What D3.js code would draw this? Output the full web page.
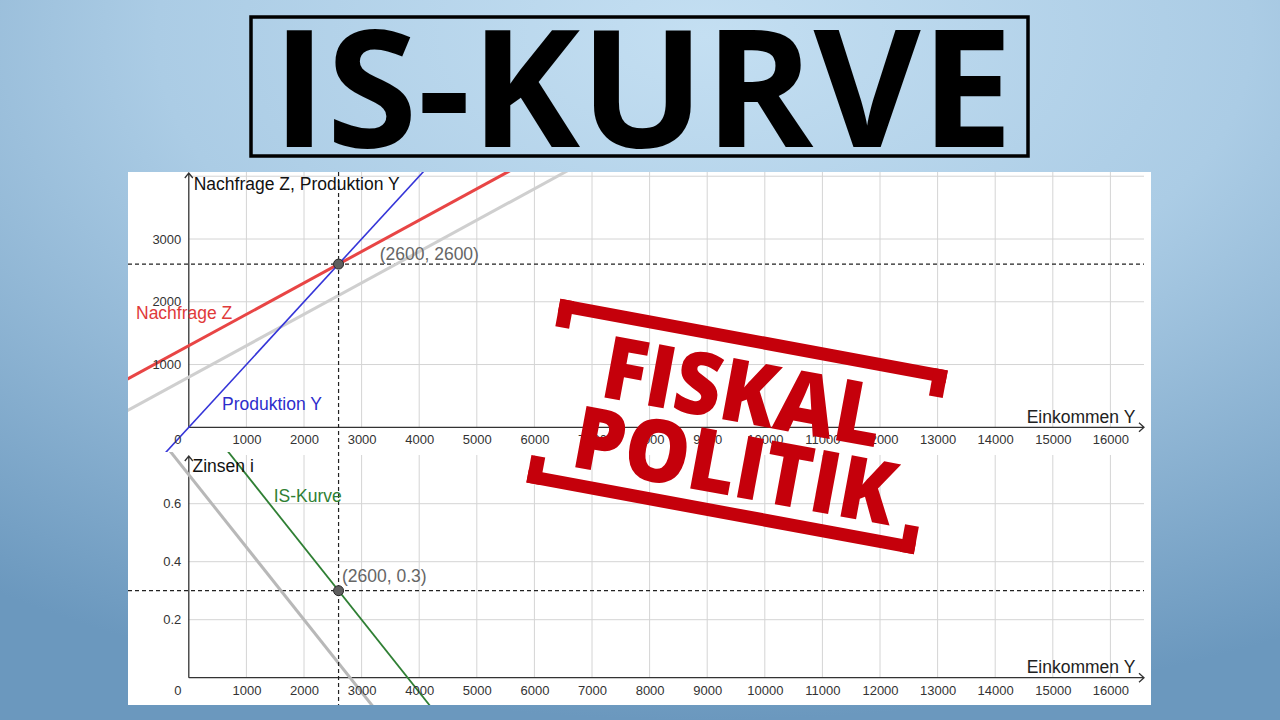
<!DOCTYPE html>
<html lang="de">
<head>
<meta charset="UTF-8">
<title>IS-Kurve – Fiskalpolitik</title>
<script src="https://d3js.org/d3.v7.min.js"></script>
<style>
  html, body { margin: 0; padding: 0; overflow: hidden; }
  svg { display: block; }
  .tick text { font-family: 'Liberation Sans', Arial, sans-serif; font-size: 13px; fill: #333; }
  .lbl { font-family: 'Liberation Sans', Arial, sans-serif; font-size: 17.5px; }
  .grid { stroke: #d4d4d4; stroke-width: 1; }
  .dash { stroke: #222; stroke-width: 1.2; stroke-dasharray: 4 3; }
  .axis-line { stroke: #333; stroke-width: 1.3; fill: none; }
</style>
</head>
<body>
<svg id="chart" width="1280" height="720"></svg>
<script>
// Einkommen Y (beide Diagramme)
const xTicks = [0, 1000, 2000, 3000, 4000, 5000, 6000, 7000, 8000, 9000, 10000, 11000, 12000, 13000, 14000, 15000, 16000];
// oberes Diagramm: Nachfrage Z / Produktion Y
const zTicks = [1000, 2000, 3000];
const zGrid = [1000, 2000, 3000, 4000];
// unteres Diagramm: Zinsen i
const iTicks = [0.2, 0.4, 0.6];

// Geraden als Endpunkte [Y, Wert]
const produktionY = [[-1000, -1000], [5000, 5000]];
const nachfrageZ = [[-2000, 300], [6000, 4300]];
const nachfrageAlt = [[-2000, -200], [7000, 4300]];
const isKurve = [[0, 0.95], [4500, -0.175]];
const isAlt = [[-500, 0.825], [3500, -0.175]];
const gleichgewichtZ = [2600, 2600];
const gleichgewichtI = [2600, 0.3];

const svg = d3.select("#chart");
const defs = svg.append("defs");

// Hintergrund
const bg = defs.append("radialGradient").attr("id", "bg")
  .attr("cx", "0.55").attr("cy", "0.05").attr("r", "0.95");
bg.append("stop").attr("offset", "0").attr("stop-color", "#c4dff2");
bg.append("stop").attr("offset", "0.45").attr("stop-color", "#abcce5");
bg.append("stop").attr("offset", "1").attr("stop-color", "#6b98be");
svg.append("rect").attr("width", 1280).attr("height", 720).attr("fill", "url(#bg)");

// Titel
svg.append("rect")
  .attr("x", 251).attr("y", 17).attr("width", 777).attr("height", 139)
  .attr("fill", "none").attr("stroke", "#000").attr("stroke-width", 3.5);
svg.append("text")
  .attr("x", 272).attr("y", 147)
  .attr("textLength", 741).attr("lengthAdjust", "spacingAndGlyphs")
  .style("font-family", "'Open Sans', sans-serif")
  .style("font-weight", 700)
  .style("font-size", "164px")
  .attr("fill", "#000")
  .text("IS-KURVE");

// weißes Zeichenblatt
const L = 128, R = 1151, T = 172, M = 452, B = 705, AX_END = 1144;
svg.append("rect").attr("x", L).attr("y", T).attr("width", R - L).attr("height", B - T).attr("fill", "#fff");

defs.append("clipPath").attr("id", "clipTop")
  .append("rect").attr("x", L).attr("y", T).attr("width", R - L).attr("height", M - T);
defs.append("clipPath").attr("id", "clipBot")
  .append("rect").attr("x", L).attr("y", M).attr("width", R - L).attr("height", B - M);

const x = d3.scaleLinear().domain([0, 16000]).range([188.8, 1110.4]);
const yZ = d3.scaleLinear().domain([0, 3000]).range([427.3, 239]);
const yI = d3.scaleLinear().domain([0, 0.6]).range([677.7, 503.7]);

// ---------- oberes Diagramm ----------
const topG = svg.append("g").attr("clip-path", "url(#clipTop)");

topG.selectAll(".vgrid").data(xTicks.slice(1)).enter().append("line")
  .attr("class", "grid")
  .attr("x1", d => x(d)).attr("x2", d => x(d))
  .attr("y1", T).attr("y2", yZ(0));
topG.selectAll(".hgrid").data(zGrid).enter().append("line")
  .attr("class", "grid")
  .attr("x1", x(0)).attr("x2", AX_END)
  .attr("y1", d => yZ(d)).attr("y2", d => yZ(d));

topG.append("line").attr("class", "dash")
  .attr("x1", L).attr("x2", AX_END)
  .attr("y1", yZ(gleichgewichtZ[1])).attr("y2", yZ(gleichgewichtZ[1]));

// Achsen
topG.append("path").attr("class", "axis-line")
  .attr("d", `M${x(0)},${yZ(0)}V${T + 1}M${x(0) - 4},${T + 6}L${x(0)},${T + 1}L${x(0) + 4},${T + 6}`);
topG.append("path").attr("class", "axis-line")
  .attr("d", `M${x(0)},${yZ(0)}H${AX_END}M${AX_END - 5},${yZ(0) - 4.5}L${AX_END},${yZ(0)}L${AX_END - 5},${yZ(0) + 4.5}`);

const lineZ = d3.line().x(d => x(d[0])).y(d => yZ(d[1]));
topG.append("path").attr("d", lineZ(nachfrageAlt))
  .attr("fill", "none").attr("stroke", "#cfcfcf").attr("stroke-width", 3);
topG.append("path").attr("d", lineZ(nachfrageZ))
  .attr("fill", "none").attr("stroke", "#e84545").attr("stroke-width", 3);
topG.append("path").attr("d", lineZ(produktionY))
  .attr("fill", "none").attr("stroke", "#3535d8").attr("stroke-width", 1.6);

topG.append("g").attr("transform", `translate(0,${yZ(0)})`)
  .call(d3.axisBottom(x).tickValues(xTicks.slice(1)).tickSize(0).tickPadding(7.8).tickFormat(d3.format("d")))
  .call(g => g.select(".domain").remove());
topG.append("g").attr("transform", `translate(${x(0)},0)`)
  .call(d3.axisLeft(yZ).tickValues(zTicks).tickSize(0).tickPadding(7.5).tickFormat(d3.format("d")))
  .call(g => g.select(".domain").remove());
topG.append("text").attr("x", x(0) - 11).attr("y", 444).attr("text-anchor", "middle")
  .style("font-family", "'Liberation Sans', Arial, sans-serif").style("font-size", "13px").attr("fill", "#333")
  .text("0");

// ---------- unteres Diagramm ----------
const botG = svg.append("g").attr("clip-path", "url(#clipBot)");

botG.selectAll(".vgrid").data(xTicks.slice(1)).enter().append("line")
  .attr("class", "grid")
  .attr("x1", d => x(d)).attr("x2", d => x(d))
  .attr("y1", 455).attr("y2", yI(0));
botG.selectAll(".hgrid").data(iTicks).enter().append("line")
  .attr("class", "grid")
  .attr("x1", x(0)).attr("x2", AX_END)
  .attr("y1", d => yI(d)).attr("y2", d => yI(d));

botG.append("line").attr("class", "dash")
  .attr("x1", L).attr("x2", AX_END)
  .attr("y1", yI(gleichgewichtI[1])).attr("y2", yI(gleichgewichtI[1]));

botG.append("path").attr("class", "axis-line")
  .attr("d", `M${x(0)},${yI(0)}V456M${x(0) - 4},461L${x(0)},456L${x(0) + 4},461`);
botG.append("path").attr("class", "axis-line")
  .attr("d", `M${x(0)},${yI(0)}H${AX_END}M${AX_END - 5},${yI(0) - 4.5}L${AX_END},${yI(0)}L${AX_END - 5},${yI(0) + 4.5}`);

const lineI = d3.line().x(d => x(d[0])).y(d => yI(d[1]));
botG.append("path").attr("d", lineI(isAlt))
  .attr("fill", "none").attr("stroke", "#b8b8b8").attr("stroke-width", 3);
botG.append("path").attr("d", lineI(isKurve))
  .attr("fill", "none").attr("stroke", "#2f7f34").attr("stroke-width", 1.8);

botG.append("g").attr("transform", `translate(0,${yI(0)})`)
  .call(d3.axisBottom(x).tickValues(xTicks.slice(1)).tickSize(0).tickPadding(8.2).tickFormat(d3.format("d")))
  .call(g => g.select(".domain").remove());
botG.append("g").attr("transform", `translate(${x(0)},0)`)
  .call(d3.axisLeft(yI).tickValues(iTicks).tickSize(0).tickPadding(7.5).tickFormat(d3.format(".1f")))
  .call(g => g.select(".domain").remove());
botG.append("text").attr("x", x(0) - 11).attr("y", 695).attr("text-anchor", "middle")
  .style("font-family", "'Liberation Sans', Arial, sans-serif").style("font-size", "13px").attr("fill", "#333")
  .text("0");

// senkrechte Hilfslinie bei Y = 2600 über beide Diagramme
svg.append("line").attr("class", "dash")
  .attr("x1", x(gleichgewichtZ[0])).attr("x2", x(gleichgewichtZ[0]))
  .attr("y1", T).attr("y2", B);

// Gleichgewichtspunkte
svg.append("circle").attr("cx", x(gleichgewichtZ[0])).attr("cy", yZ(gleichgewichtZ[1])).attr("r", 5)
  .attr("fill", "#5f5f5f").attr("stroke", "#2a2a2a").attr("stroke-width", 1);
svg.append("circle").attr("cx", x(gleichgewichtI[0])).attr("cy", yI(gleichgewichtI[1])).attr("r", 5)
  .attr("fill", "#5f5f5f").attr("stroke", "#2a2a2a").attr("stroke-width", 1);

// Beschriftungen
const labels = [
  { t: "Nachfrage Z, Produktion Y", x: 193.7, y: 190, c: "#111" },
  { t: "(2600, 2600)", x: 379.7, y: 260, c: "#666" },
  { t: "Nachfrage Z", x: 136, y: 319, c: "#e03a3a" },
  { t: "Produktion Y", x: 222, y: 410, c: "#2d2dcc" },
  { t: "Einkommen Y", x: 1026.7, y: 423, c: "#222" },
  { t: "Zinsen i", x: 192.5, y: 472, c: "#111" },
  { t: "IS-Kurve", x: 273.7, y: 502, c: "#2f7f34" },
  { t: "(2600, 0.3)", x: 342, y: 582, c: "#666" },
  { t: "Einkommen Y", x: 1026.7, y: 673, c: "#222" }
];
svg.selectAll(".lbl").data(labels).enter().append("text")
  .attr("class", "lbl")
  .attr("x", d => d.x).attr("y", d => d.y)
  .attr("fill", d => d.c)
  .text(d => d.t);

// Stempel "FISKAL POLITIK"
const red = "#c5000b";
const stamp = svg.append("g").attr("transform", "translate(737,427) rotate(10.5)");
[
  [-197, -94, 394, 13], [-197, -94, 14, 28], [183, -94, 14, 28],
  [-197, 80, 394, 13], [-197, 65, 14, 28], [183, 65, 14, 28]
].forEach(r => {
  stamp.append("rect").attr("x", r[0]).attr("y", r[1]).attr("width", r[2]).attr("height", r[3]).attr("fill", red);
});
stamp.append("text").attr("x", -142).attr("y", -5)
  .attr("textLength", 283).attr("lengthAdjust", "spacingAndGlyphs")
  .style("font-family", "'Open Sans', sans-serif").style("font-weight", 800).style("font-size", "87px")
  .attr("fill", red).text("FISKAL");
stamp.append("text").attr("x", -158).attr("y", 69)
  .attr("textLength", 326).attr("lengthAdjust", "spacingAndGlyphs")
  .style("font-family", "'Open Sans', sans-serif").style("font-weight", 800).style("font-size", "87px")
  .attr("fill", red).text("POLITIK");
</script>
</body>
</html>
